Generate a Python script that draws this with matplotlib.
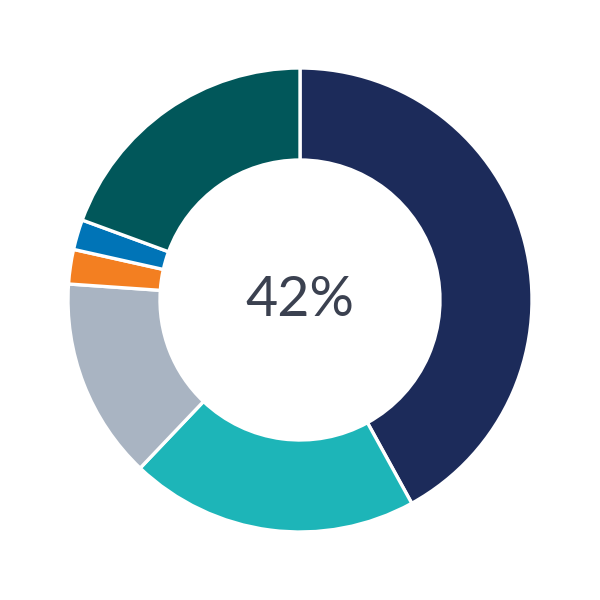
import matplotlib
matplotlib.use("Agg")
import matplotlib.pyplot as plt

labels = ["Navy", "Teal", "Gray", "Orange", "Blue", "Green"]
values = [42, 20.1, 14.0, 2.4, 2.1, 19.4]
colors = ["#1c2b5a", "#1db5b8", "#a9b4c2", "#f37f21", "#0074b7", "#01575a"]
center_text = "42%"

fig = plt.figure(figsize=(6, 6), dpi=100)
ax = fig.add_axes([0, 0, 1, 1])
ax.pie(values, colors=colors, startangle=90, counterclock=False, radius=1.0,
       wedgeprops=dict(width=92/232, edgecolor="white", linewidth=2.4))
lim = 300 / 232
ax.set_xlim(-lim, lim)
ax.set_ylim(-lim, lim)
ax.set_aspect("equal")
ax.axis("off")
ax.text(0, 0, center_text, ha="center", va="center", fontsize=40,
        color="#3b4150", family=["Lato", "DejaVu Sans"])
fig.savefig("out.png", dpi=100)
